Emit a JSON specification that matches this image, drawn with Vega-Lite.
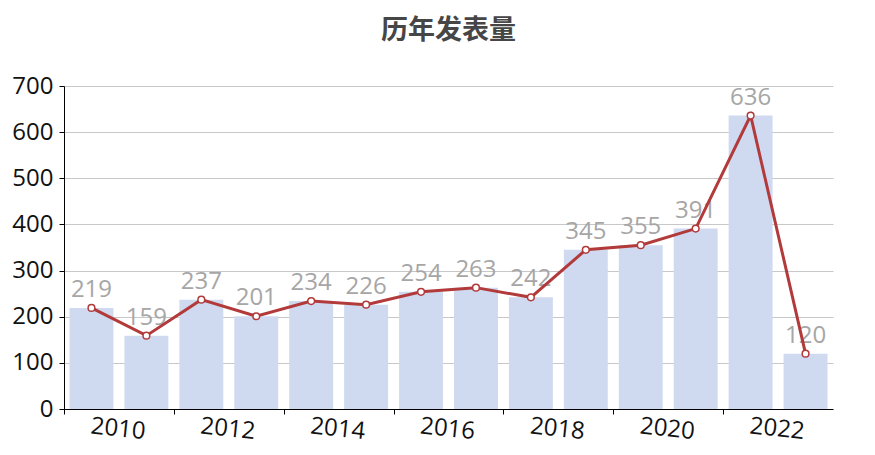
{
  "$schema": "https://vega.github.io/schema/vega-lite/v6.json",
  "width": 769,
  "height": 323,
  "autosize": {"type": "none"},
  "padding": {"left": 64, "top": 86, "right": 42, "bottom": 46},
  "background": "white",
  "title": {
    "text": "历年发表量",
    "font": "Noto Sans CJK SC",
    "fontSize": 27,
    "fontWeight": "bold",
    "color": "#464646",
    "anchor": "middle",
    "baseline": "middle",
    "offset": 16
  },
  "config": {
    "view": {"stroke": null},
    "font": "Open Sans"
  },
  "data": {
    "values": [
      {"year": "2010", "count": 219},
      {"year": "2011", "count": 159},
      {"year": "2012", "count": 237},
      {"year": "2013", "count": 201},
      {"year": "2014", "count": 234},
      {"year": "2015", "count": 226},
      {"year": "2016", "count": 254},
      {"year": "2017", "count": 263},
      {"year": "2018", "count": 242},
      {"year": "2019", "count": 345},
      {"year": "2020", "count": 355},
      {"year": "2021", "count": 391},
      {"year": "2022", "count": 636},
      {"year": "2023", "count": 120}
    ]
  },
  "encoding": {
    "x": {
      "field": "year",
      "type": "ordinal",
      "scale": {"paddingInner": 0.2, "paddingOuter": 0.1},
      "axis": {
        "title": null,
        "values": ["2010", "2012", "2014", "2016", "2018", "2020", "2022"],
        "tickOffset": -27.5,
        "labelOffset": 27.5,
        "labelAngle": 6,
        "labelAlign": "left",
        "labelBaseline": "top",
        "labelFontSize": 24,
        "labelColor": "#111",
        "labelFont": "Open Sans",
        "labelPadding": 0,
        "domainColor": "#000",
        "tickColor": "#000",
        "tickSize": 5,
        "grid": false
      }
    },
    "y": {
      "field": "count",
      "type": "quantitative",
      "scale": {"domain": [0, 700], "nice": false},
      "axis": {
        "title": null,
        "values": [0, 100, 200, 300, 400, 500, 600, 700],
        "labelFontSize": 24,
        "labelColor": "#111",
        "labelFont": "Open Sans",
        "labelPadding": 6,
        "domainColor": "#000",
        "tickColor": "#000",
        "tickSize": 5,
        "gridColor": "#c8c8c8",
        "gridWidth": 1
      }
    }
  },
  "layer": [
    {
      "mark": {"type": "bar", "color": "#cfdaf1"}
    },
    {
      "mark": {"type": "text", "baseline": "bottom", "dy": -6, "fontSize": 24, "color": "#a6a6a6", "font": "Open Sans"},
      "encoding": {"text": {"field": "count", "type": "quantitative"}}
    },
    {
      "mark": {"type": "line", "color": "#b23a3a", "strokeWidth": 3, "point": {"filled": false, "fill": "white", "stroke": "#b23a3a", "strokeWidth": 1.5, "size": 45, "opacity": 1}},
      "encoding": {}
    }
  ]
}
